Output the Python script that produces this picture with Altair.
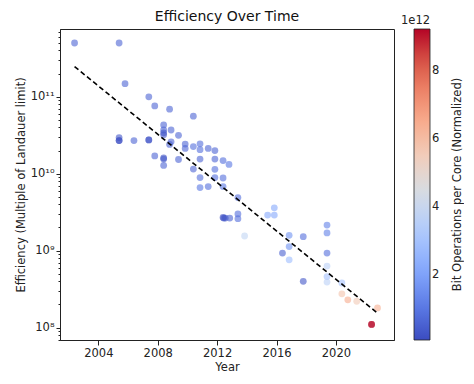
import altair as alt
import pandas as pd

# Data
years = [2002.4, 2005.4, 2005.8, 2007.4, 2007.8, 2008.8, 2010.4, 2008.4, 2008.4, 2008.4,
         2008.4, 2008.9, 2009.4, 2005.4, 2005.4, 2005.4, 2006.4, 2007.4, 2007.4, 2008.9,
         2008.8, 2009.85, 2009.85, 2010.4, 2010.85, 2010.85, 2011.4, 2011.85, 2007.8, 2008.4,
         2008.4, 2009.4, 2010.85, 2011.85, 2012.4, 2012.8, 2008.4, 2010.4, 2011.85, 2010.85,
         2011.85, 2012.4, 2010.85, 2011.4, 2012.4, 2013.4, 2013.4, 2013.4, 2012.4, 2012.45,
         2012.55, 2012.85, 2013.85, 2015.4, 2015.85, 2015.85, 2016.85, 2016.85, 2016.4, 2016.85,
         2017.8, 2017.8, 2019.4, 2019.4, 2019.4, 2019.4, 2019.4, 2019.4, 2020.4, 2020.4,
         2020.8, 2021.4, 2022.8, 2022.4, 2022.4]
efficiency = [5.0e11, 5.0e11, 1.48e11, 1.0e11, 7.6e10, 6.9e10, 5.6e10, 4.3e10, 3.7e10, 3.4e10,
              3.2e10, 3.7e10, 3.15e10, 2.95e10, 2.7e10, 2.7e10, 2.7e10, 2.75e10, 2.75e10, 2.6e10,
              2.4e10, 2.43e10, 2.13e10, 2.25e10, 2.45e10, 2.05e10, 2.13e10, 2.0e10, 1.7e10, 1.6e10,
              1.55e10, 1.53e10, 1.55e10, 1.55e10, 1.48e10, 1.32e10, 1.28e10, 1.15e10, 1.14e10, 8.9e9,
              8.9e9, 8.8e9, 6.6e9, 6.8e9, 6.8e9, 4.9e9, 3.0e9, 2.6e9, 2.7e9, 2.65e9,
              2.65e9, 2.65e9, 1.55e9, 2.9e9, 3.6e9, 2.9e9, 1.58e9, 1.13e9, 9.3e8, 7.6e8,
              1.52e9, 4.0e8, 2.15e9, 1.7e9, 9.3e8, 6.3e8, 4.6e8, 3.9e8, 3.8e8, 2.75e8,
              2.3e8, 2.2e8, 1.8e8, 1.1e8, 1.1e8]
bit_ops_e12 = [0.6, 0.6, 0.6, 0.6, 0.6, 0.6, 0.6, 0.6, 0.6, 0.3,
               0.3, 0.6, 0.6, 0.3, 0.2, 0.2, 0.6, 0.3, 0.3, 0.6,
               0.5, 0.6, 0.6, 0.8, 0.8, 0.8, 0.6, 0.6, 0.6, 0.2,
               0.4, 0.6, 0.6, 0.6, 0.8, 1.0, 0.6, 0.6, 0.8, 0.8,
               0.8, 0.8, 1.0, 0.8, 1.0, 0.8, 0.8, 0.8, 0.2, 0.2,
               0.3, 0.5, 3.8, 2.2, 2.2, 2.2, 1.6, 1.6, 0.5, 2.8,
               0.8, 0.3, 1.2, 1.2, 0.8, 3.6, 3.0, 3.6, 3.0, 5.8,
               6.5, 5.6, 6.4, 9.2, 9.2]

trend_years = [2002.4, 2022.8]
trend_values = [2.47e11, 1.54e8]

chart_title = "Efficiency Over Time"
colorbar_ticks = [2, 4, 6, 8]
colorbar_title = "Bit Operations per Core (Normalized)"
colorbar_offset_label = "1e12"
coolwarm = ["#3b4cc0", "#5977e3", "#7b9ff9", "#9ebeff", "#c0d4f5", "#dddcdc",
            "#f2cbb7", "#f7ac8e", "#ee8468", "#d65244", "#b40426"]

y_ticks = [m * 10 ** e for e in range(7, 12) for m in range(1, 10)
           if 6.9e7 <= m * 10 ** e <= 7.6e11]

pts = pd.DataFrame({"Year": years, "Efficiency": efficiency, "BitOps": bit_ops_e12})
trend = pd.DataFrame({"Year": trend_years, "Efficiency": trend_values})

FONT = "DejaVu Sans"
W, H = 334, 311
major_test = "datum.value == 1e8 || datum.value == 1e9 || datum.value == 1e10 || datum.value == 1e11"

x_scale = alt.Scale(domain=[2001.42, 2023.91], nice=False, zero=False)
y_scale = alt.Scale(type="log", domain=[6.9e7, 7.6e11], nice=False)

points = alt.Chart(pts).mark_circle(size=46, opacity=0.6).encode(
    x=alt.X("Year:Q", scale=x_scale,
            axis=alt.Axis(title="Year", values=[2004, 2008, 2012, 2016, 2020], format="d",
                          titlePadding=3)),
    y=alt.Y("Efficiency:Q", scale=y_scale,
            axis=alt.Axis(title="Efficiency (Multiple of Landauer limit)", values=y_ticks,
                          labelExpr="datum.value == 1e8 ? '10⁸' : datum.value == 1e9 ? '10⁹' : "
                                    "datum.value == 1e10 ? '10¹⁰' : datum.value == 1e11 ? '10¹¹' : ''",
                          tickSize={"condition": {"test": major_test, "value": 4}, "value": 2})),
    color=alt.Color("BitOps:Q",
                    scale=alt.Scale(domain=[0.08, 9.22], range=coolwarm, interpolate="rgb", nice=False),
                    legend=alt.Legend(title=None, gradientOpacity=1,
                                      values=colorbar_ticks, gradientLength=H, gradientThickness=16,
                                      offset=20, gradientStrokeColor="#222", gradientStrokeWidth=0.8)),
)

line = alt.Chart(trend).mark_line(color="black", strokeDash=[5, 3], strokeWidth=1.6).encode(
    x=alt.X("Year:Q", scale=x_scale),
    y=alt.Y("Efficiency:Q", scale=y_scale),
)

title_text = alt.Chart(pd.DataFrame({"t": [chart_title]})).mark_text(
    font=FONT, fontSize=14, color="#111", baseline="middle", align="center").encode(
    x=alt.value(W / 2), y=alt.value(-12), text="t:N")

offset_text = alt.Chart(pd.DataFrame({"t": [colorbar_offset_label]})).mark_text(
    font=FONT, fontSize=11.5, color="#222", baseline="middle", align="left").encode(
    x=alt.value(W + 7), y=alt.value(-8), text="t:N")

cb_title = alt.Chart(pd.DataFrame({"t": [colorbar_title]})).mark_text(
    font=FONT, fontSize=11.5, color="#222", baseline="middle", align="center", angle=270).encode(
    x=alt.value(W + 64), y=alt.value(H / 2), text="t:N")

chart = alt.layer(points, line, title_text, offset_text, cb_title).properties(
    width=W, height=H,
    padding={"top": 2, "left": 7, "right": 0, "bottom": 0},
).configure_view(stroke="#222", strokeWidth=1).configure_axis(
    labelFont=FONT, titleFont=FONT, labelFontSize=11.5, titleFontSize=11.5,
    titleFontWeight="normal", labelColor="#222", titleColor="#222",
    domainColor="#222", tickColor="#222", grid=False,
).configure_legend(labelFont=FONT, labelFontSize=11.5, labelColor="#222")

chart.save("out.html", embed_options={"renderer": "svg", "actions": False})
